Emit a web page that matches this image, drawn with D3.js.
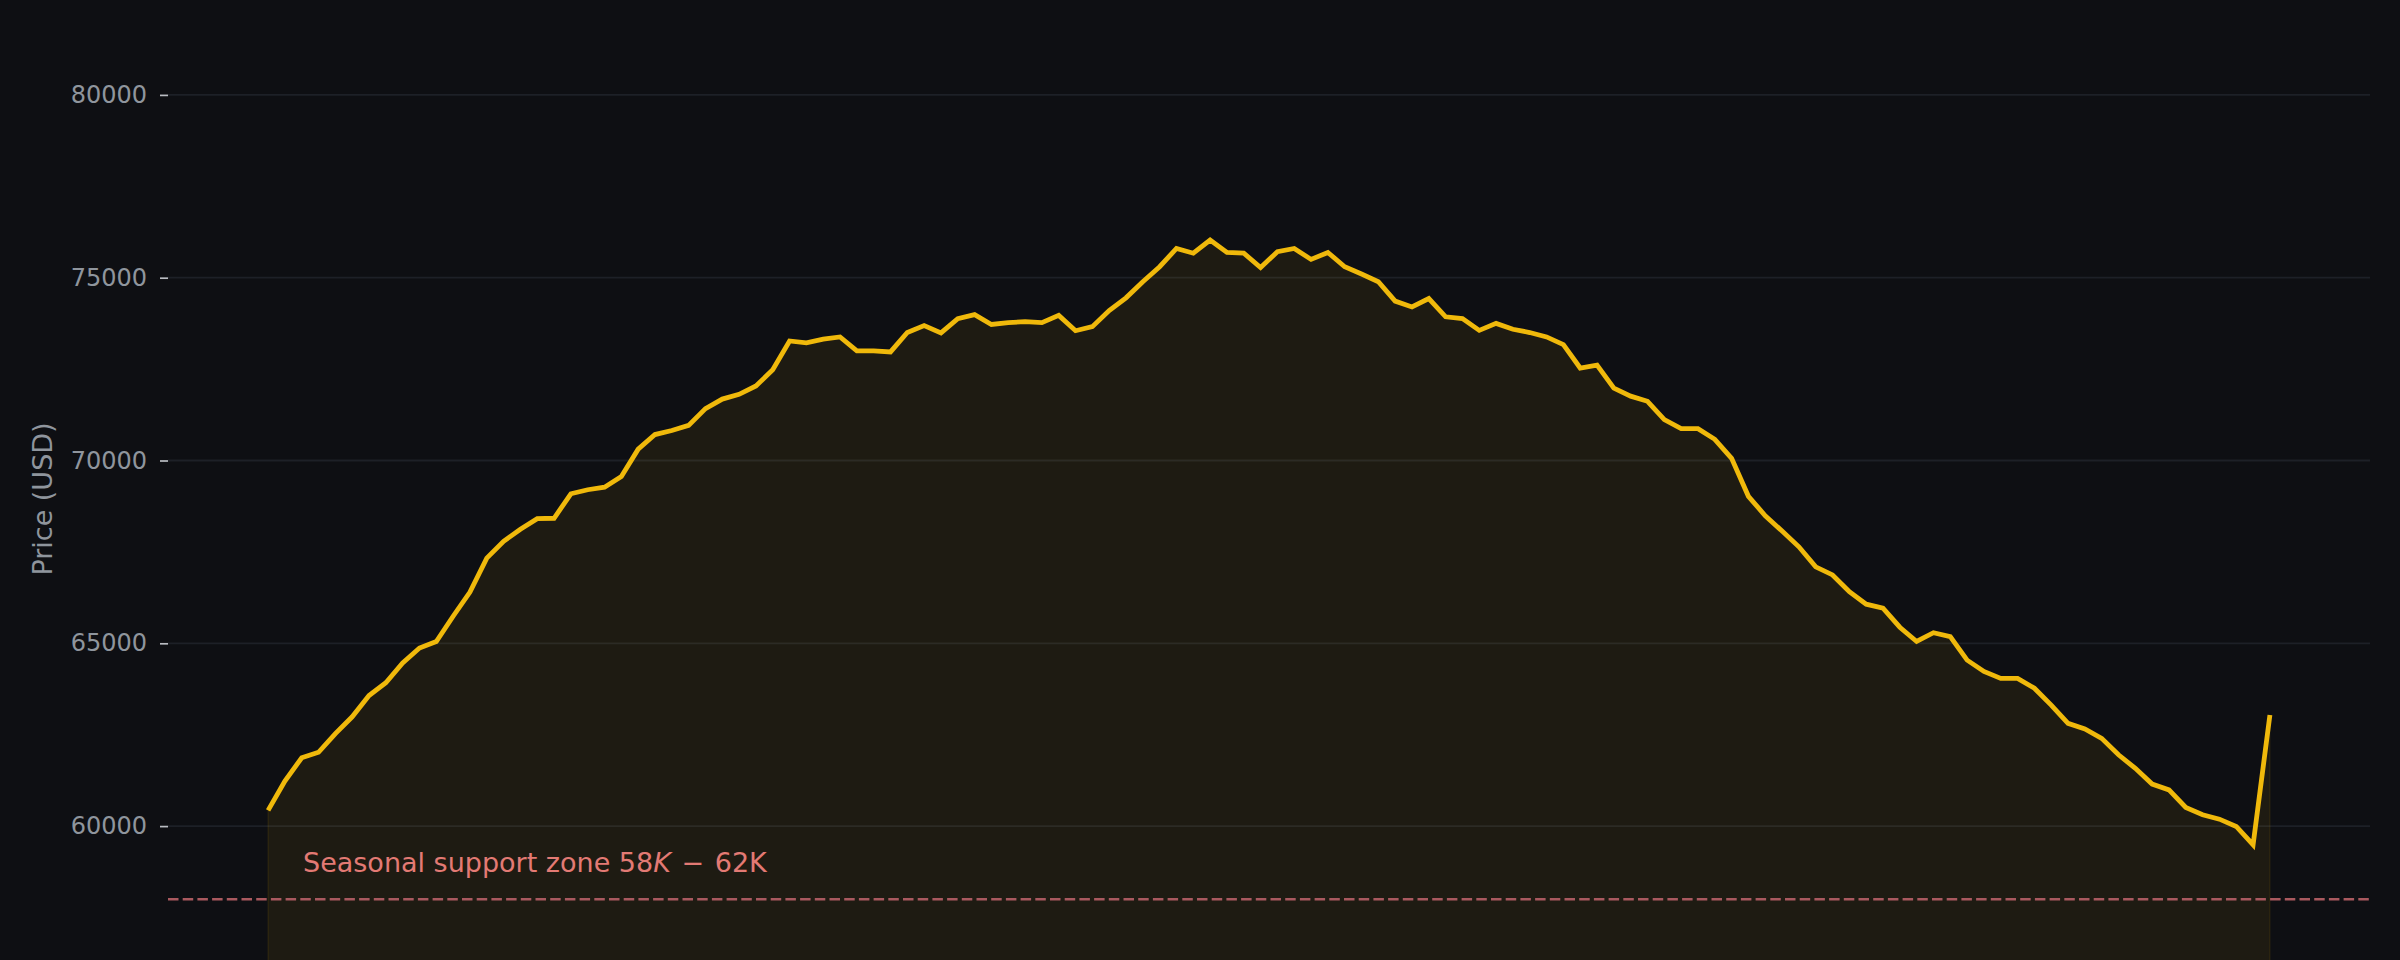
<!DOCTYPE html>
<html>
<head>
<meta charset="utf-8">
<script src="https://cdn.jsdelivr.net/npm/d3@7"></script>
<style>
  html, body { margin: 0; padding: 0; background: #0e0f13; }
  svg { display: block; }
</style>
</head>
<body>
<svg id="chart" width="2400" height="960"></svg>
<script>
// ---- data ----
const days = d3.range(120); // day index
const prices = [
  60430, 61230, 61870, 62020, 62530, 62990, 63570, 63920, 64460, 64870,
  65050, 65740, 66400, 67330, 67790, 68120, 68410, 68420, 69090, 69200,
  69270, 69560, 70310, 70710, 70820, 70960, 71420, 71680, 71810, 72040,
  72480, 73270, 73220, 73320, 73380, 73000, 73000, 72970, 73500, 73690,
  73490, 73880, 73990, 73720, 73770, 73800, 73770, 73970, 73550, 73660,
  74100, 74450, 74890, 75300, 75800, 75670, 76030, 75690, 75670, 75280,
  75710, 75800, 75500, 75690, 75300, 75100, 74890, 74360, 74200, 74430,
  73930, 73880, 73560, 73750, 73590, 73500, 73380, 73170, 72530, 72610,
  71980, 71760, 71620, 71120, 70870, 70870, 70580, 70060, 69020, 68490,
  68070, 67640, 67090, 66870, 66410, 66070, 65960, 65440, 65050, 65290,
  65180, 64540, 64230, 64040, 64040, 63770, 63310, 62810, 62660, 62400,
  61950, 61580, 61150, 60990, 60510, 60310, 60190, 59990, 59490, 63040
];
const yTicks = [60000, 65000, 70000, 75000, 80000];
const supportLevel = 58000;
const annotationParts = ["Seasonal support zone 58", "K", " \u2212", " 62K"];
const yLabel = "Price (USD)";

// ---- layout ----
const W = 2400, H = 960;
const plotLeft = 168, plotRight = 2370;
const svg = d3.select("#chart");
svg.append("rect").attr("width", W).attr("height", H).attr("fill", "#0e0f13");

const n = days.length;
const pad = (n - 1) * 0.05;
const x = d3.scaleLinear().domain([days[0] - pad, days[n - 1] + pad]).range([plotLeft, plotRight]);
const y = d3.scaleLinear().domain([60000, 80000]).range([826.1, 94.9]);

// grid
const grid = svg.append("g");
grid.selectAll("line").data(yTicks).join("line")
  .attr("x1", plotLeft).attr("x2", plotRight)
  .attr("y1", d => y(d)).attr("y2", d => y(d))
  .attr("stroke", "#1d2027").attr("stroke-width", 1.8);

// y axis
const yAxis = d3.axisLeft(y).tickValues(yTicks).tickFormat(d3.format("d")).tickSize(8).tickPadding(13);
const ag = svg.append("g").attr("transform", `translate(${plotLeft},0)`).call(yAxis);
ag.select(".domain").remove();
ag.selectAll(".tick line").attr("stroke", "#b9bcc2").attr("stroke-width", 1.7);
ag.selectAll(".tick text")
  .attr("fill", "#8f959d")
  .style("font-family", "'DejaVu Sans', sans-serif")
  .style("font-size", "24px");

// y label
svg.append("text")
  .attr("transform", `translate(42,499) rotate(-90)`)
  .attr("text-anchor", "middle")
  .attr("dominant-baseline", "central")
  .attr("fill", "#8f959d")
  .style("font-family", "'DejaVu Sans', sans-serif")
  .style("font-size", "27px")
  .text(yLabel);

// area fill
const bottom = H + 40;
const area = d3.area()
  .x((d, i) => x(days[i]))
  .y0(bottom)
  .y1(d => y(d));
svg.append("path")
  .datum(prices)
  .attr("d", area)
  .attr("fill", "#f0b90b")
  .attr("fill-opacity", 0.075)
  .attr("stroke", "#f0b90b")
  .attr("stroke-opacity", 0.08)
  .attr("stroke-width", 1.5);

// support dashed line
svg.append("line")
  .attr("x1", plotLeft).attr("x2", plotRight)
  .attr("y1", y(supportLevel)).attr("y2", y(supportLevel))
  .attr("stroke", "#a9595f")
  .attr("stroke-width", 2.6)
  .attr("stroke-dasharray", "10.5,4.2");

// price line
const line = d3.line()
  .x((d, i) => x(days[i]))
  .y(d => y(d));
svg.append("path")
  .datum(prices)
  .attr("d", line)
  .attr("fill", "none")
  .attr("stroke", "#f0b90b")
  .attr("stroke-width", 4.8)
  .attr("stroke-linejoin", "miter")
  .attr("stroke-linecap", "butt");

// annotation
const t = svg.append("text")
  .attr("x", 303).attr("y", 872)
  .attr("fill", "#e37a74")
  .style("font-family", "'DejaVu Sans', sans-serif")
  .style("font-size", "27px");
t.append("tspan").text(annotationParts[0]);
t.append("tspan").style("font-style", "italic").text(annotationParts[1]);
t.append("tspan").attr("dx", 2).text(annotationParts[2]);
t.append("tspan").attr("dx", 2).text(annotationParts[3]);
</script>
</body>
</html>
